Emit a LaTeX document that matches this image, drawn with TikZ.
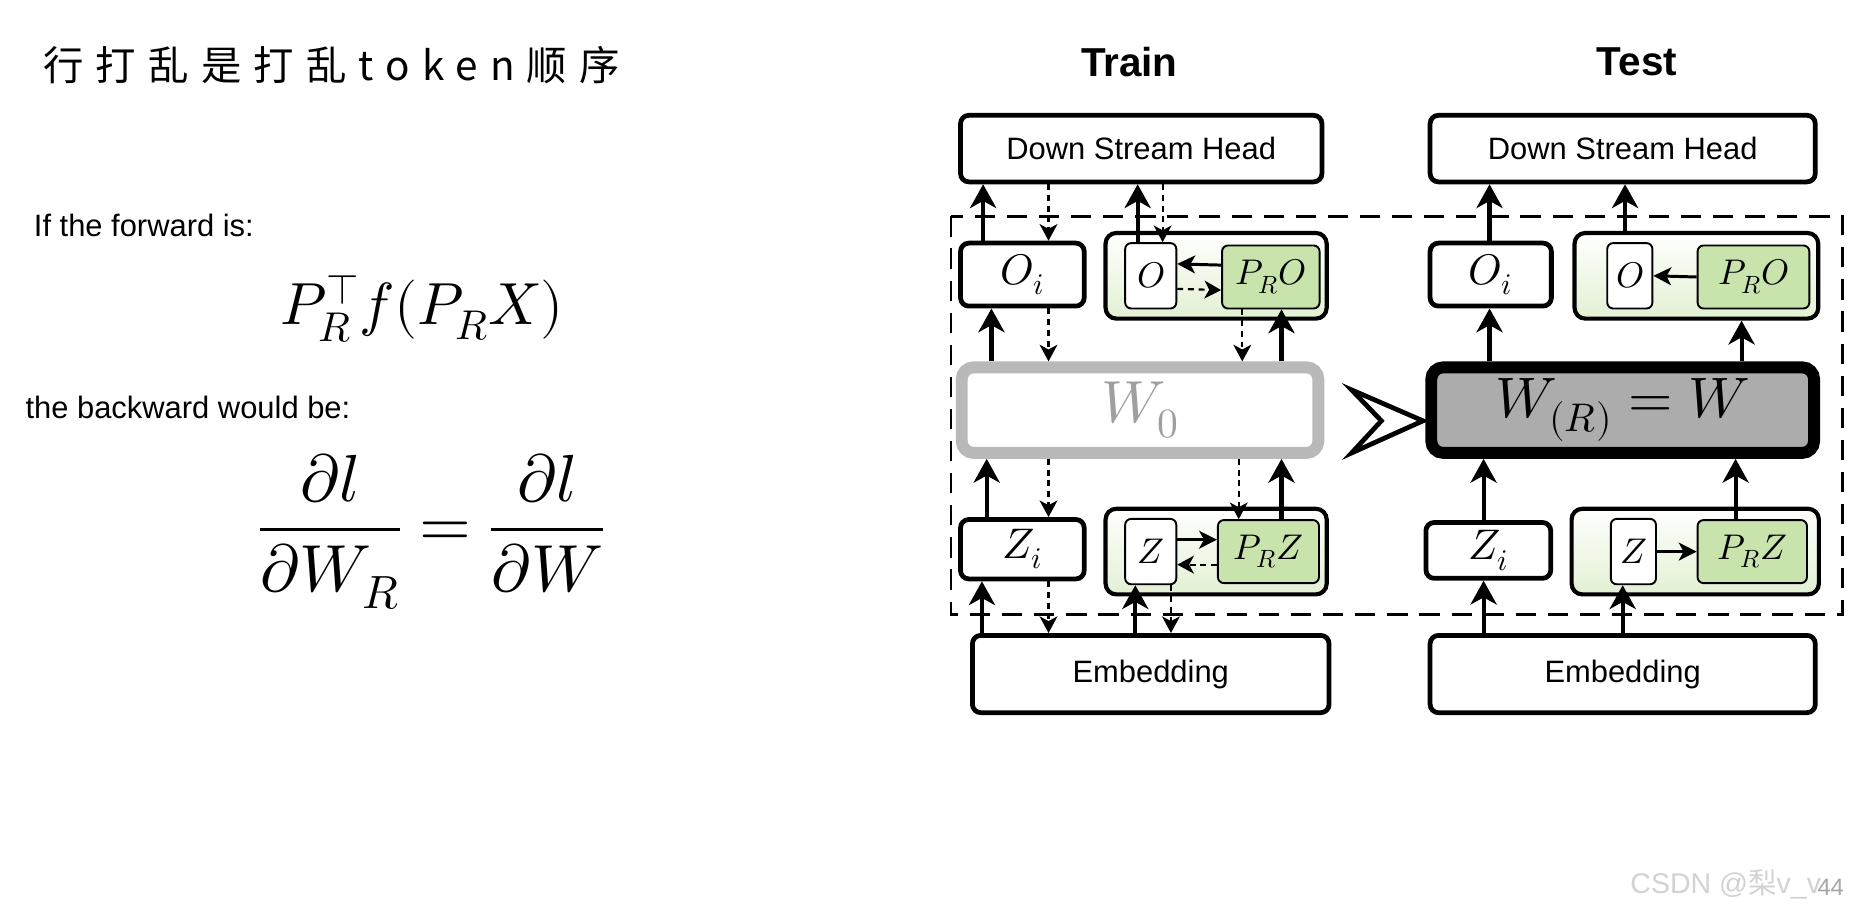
\documentclass[tikz,border=0pt]{standalone}
\usepackage{amsmath}
\usepackage{fontspec}
\usepackage{unicode-math}
\setmathfont{Latin Modern Math}
\setsansfont{Liberation Sans}
\newfontfamily\cjk[LetterSpace=30]{Noto Sans CJK SC}
\newfontfamily\cjkw{Noto Sans CJK SC}
\usetikzlibrary{arrows.meta,positioning}
\definecolor{gfill}{RGB}{200,228,172}
\definecolor{gback}{RGB}{226,240,210}
\tikzset{
  box/.style={draw,line width=4pt,rounded corners=7pt,fill=white,inner sep=0pt,font=\sffamily\fontsize{26}{28}\selectfont},
  mbox/.style={box,font=\fontsize{36}{38}\selectfont},
  cont/.style={draw,line width=3.5pt,rounded corners=9pt,top color=white,bottom color=gback,inner sep=0pt},
  inw/.style={draw,line width=1.6pt,rounded corners=5pt,fill=white,inner sep=0pt,font=\fontsize{30}{32}\selectfont},
  ing/.style={inw,fill=gfill},
  up/.style={line width=3.5pt,-{Stealth[length=20pt,width=22pt,inset=6pt]}},
  dn/.style={line width=1.8pt,dash pattern=on 5pt off 4pt,-{Stealth[length=14pt,width=15pt,inset=4pt]}},
  side/.style={line width=2.5pt,-{Stealth[length=15pt,width=15pt,inset=4pt]}},
  tlabel/.style={font=\sffamily\bfseries\fontsize{34}{36}\selectfont}
}
\begin{document}
\begin{tikzpicture}[x=1pt,y=-1pt]
\useasboundingbox (0,0) rectangle (1568,770);
% left text
\node[anchor=west,font=\cjk\fontsize{34}{36}\selectfont] (title) at (33,55) {行打乱是打乱token顺序};
\node[anchor=west,font=\sffamily\fontsize{26}{28}\selectfont] (fwdtxt) at (25,190) {If the forward is:};
\node[font=\fontsize{50}{54}\selectfont] (fwd) at (355,260) {$P_R^{\top} f(P_R X)$};
\node[anchor=west,font=\sffamily\fontsize{26}{28}\selectfont] (bwdtxt) at (18,343) {the backward would be:};
\node[font=\fontsize{56}{60}\selectfont] (bwd) at (363,447) {$\dfrac{\partial l}{\partial W_R} = \dfrac{\partial l}{\partial W}$};
% titles
\node[tlabel] (train) at (950,52) {Train};
\node[tlabel] (test) at (1377,52) {Test};
% dashed region
\draw[line width=2pt,dash pattern=on 17pt off 10pt] (800,182) rectangle (1550,517);
% ---------- Train ----------
\node[box,minimum width=304,minimum height=56] (dshT) at (960,125) {Down Stream Head};
\node[mbox,minimum width=104,minimum height=53] (oiT) at (860,231) {$O_i$};
\node[cont,minimum width=186,minimum height=72] (ocT) at (1023,232) {};
\node[inw,minimum width=43,minimum height=55] (oT) at (968,232) {$O$};
\node[ing,minimum width=82,minimum height=53] (proT) at (1069,233) {$P_R O$};
\node[draw=gray!55,line width=10pt,rounded corners=10pt,fill=white,minimum width=300,minimum height=72,text=gray!75,font=\fontsize{50}{52}\selectfont] (w0) at (959,345) {$W_0$};
\node[mbox,minimum width=104,minimum height=50] (ziT) at (860,462) {$Z_i$};
\node[cont,minimum width=186,minimum height=72] (zcT) at (1023,464) {};
\node[inw,minimum width=43,minimum height=55] (zT) at (968,464) {$Z$};
\node[ing,minimum width=85,minimum height=53] (przT) at (1067,464) {$P_R Z$};
\node[box,minimum width=300,minimum height=65] (embT) at (968,567) {Embedding};
\foreach \n/\x in {a/827,b/882,c/957,d/978,e/834,f/1045,g/1078,h/830,i/1042,j/826,k/955,l/985}
  \coordinate (x\n) at (\x,0);
\draw[up] (oiT.north -| xa) -- (dshT.south -| xa);
\draw[dn] (dshT.south -| xb) -- (oiT.north -| xb);
\draw[up] (oT.north -| xc) -- (dshT.south -| xc);
\draw[dn] (dshT.south -| xd) -- (oT.north -| xd);
\draw[up] (w0.north -| xe) -- (oiT.south -| xe);
\draw[dn] (oiT.south -| xb) -- (w0.north -| xb);
\draw[dn] (proT.south -| xf) -- (w0.north -| xf);
\draw[up] (w0.north -| xg) -- (proT.south -| xg);
\draw[side] ([yshift=10]proT.west) -- ([yshift=10]oT.east);
\draw[dn] ([yshift=-11]oT.east) -- ([yshift=-11]proT.west);
\draw[up] (ziT.north -| xh) -- (w0.south -| xh);
\draw[dn] (w0.south -| xb) -- (ziT.north -| xb);
\draw[dn] (w0.south -| xi) -- (przT.north -| xi);
\draw[up] (przT.north -| xg) -- (w0.south -| xg);
\draw[side] ([yshift=10]zT.east) -- ([yshift=10]przT.west);
\draw[dn] ([yshift=-11]przT.west) -- ([yshift=-11]zT.east);
\draw[up] (embT.north -| xj) -- (ziT.south -| xj);
\draw[dn] (ziT.south -| xb) -- (embT.north -| xb);
\draw[up] (embT.north -| xk) -- (zT.south -| xk);
\draw[dn] (zT.south -| xl) -- (embT.north -| xl);
% chevron
\draw[line width=4pt,fill=white,line join=miter] (1137,328) -- (1197,354) -- (1137,381) -- (1162,354) -- cycle;
% ---------- Test ----------
\node[box,minimum width=324,minimum height=56] (dshE) at (1365,125) {Down Stream Head};
\node[mbox,minimum width=102,minimum height=53] (oiE) at (1254,231) {$O_i$};
\node[cont,minimum width=205,minimum height=72] (ocE) at (1427,232) {};
\node[inw,minimum width=38,minimum height=55] (oE) at (1371,232) {$O$};
\node[ing,minimum width=94,minimum height=53] (proE) at (1475,233) {$P_R O$};
\node[draw=black,line width=10pt,rounded corners=10pt,fill=gray!65,minimum width=322,minimum height=72,font=\fontsize{48}{50}\selectfont] (wE) at (1365,345) {$W_{(R)} = W$};
\node[mbox,minimum width=105,minimum height=47] (ziE) at (1252,463) {$Z_i$};
\node[cont,minimum width=208,minimum height=72] (zcE) at (1426,464) {};
\node[inw,minimum width=38,minimum height=55] (zE) at (1374,464) {$Z$};
\node[ing,minimum width=92,minimum height=53] (przE) at (1474,464) {$P_R Z$};
\node[box,minimum width=324,minimum height=65] (embE) at (1365,567) {Embedding};
\foreach \n/\x in {a/1253,b/1367,c/1465,d/1248,e/1460,f/1365}
  \coordinate (y\n) at (\x,0);
\draw[up] (oiE.north -| ya) -- (dshE.south -| ya);
\draw[up] (ocE.north -| yb) -- (dshE.south -| yb);
\draw[up] (wE.north -| ya) -- (oiE.south -| ya);
\draw[up] (wE.north -| yc) -- (ocE.south -| yc);
\draw[side] (proE.west) -- (oE.east);
\draw[side] (zE.east) -- (przE.west);
\draw[up] (ziE.north -| yd) -- (wE.south -| yd);
\draw[up] (przE.north -| ye) -- (wE.south -| ye);
\draw[up] (embE.north -| yd) -- (ziE.south -| yd);
\draw[up] (embE.north -| yf) -- (zE.south -| yf);
% watermark
\node[anchor=west,text=gray!35,font=\sffamily\fontsize{24}{26}\selectfont] (wm) at (1368,744) {CSDN @{\cjkw 梨}v\_v};
\node[text=gray!70,font=\sffamily\fontsize{20}{22}\selectfont] (pg) at (1540,746) {44};
\end{tikzpicture}
\end{document}
